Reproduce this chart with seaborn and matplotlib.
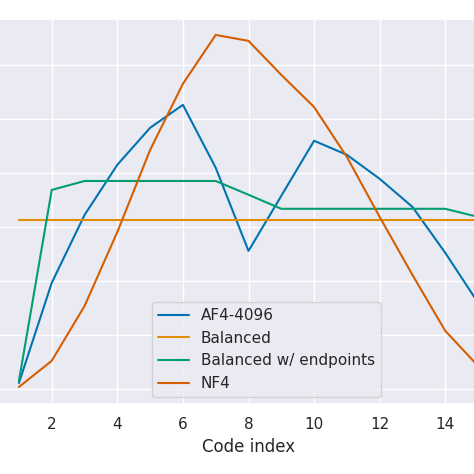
import numpy as np
import pandas as pd
import matplotlib
matplotlib.use("Agg")
import matplotlib.pyplot as plt
import seaborn as sns

# indices of the codes
code_index = list(range(1, 16))

# values
af4_4096 = [0.0022, 0.0393, 0.0644, 0.0830, 0.0967, 0.1052, 0.0819, 0.0511,
            0.0715, 0.0919, 0.0867, 0.0778, 0.0674, 0.0504, 0.0319]
balanced = [0.0625] * 15
balanced_endpoints = [0.0030, 0.0737, 0.0770, 0.0770, 0.0770, 0.0770, 0.0770, 0.0719,
                      0.0667, 0.0667, 0.0667, 0.0667, 0.0667, 0.0667, 0.0637]
nf4 = [0.0007, 0.0104, 0.0307, 0.0581, 0.0885, 0.1130, 0.1311, 0.1289,
       0.1163, 0.1044, 0.0859, 0.0637, 0.0422, 0.0215, 0.0085]

series = {
    "AF4-4096": af4_4096,
    "Balanced": balanced,
    "Balanced w/ endpoints": balanced_endpoints,
    "NF4": nf4,
}

df = pd.concat(
    [pd.DataFrame({"Code index": code_index, "valor": v, "Método": nome})
     for nome, v in series.items()],
    ignore_index=True,
)

sns.set_theme(style="darkgrid")

fig = plt.figure(figsize=(4.74, 4.74), dpi=100)
# the reference is a crop of a wider figure: axes goes past the left/right edges
ax = fig.add_axes([-4 / 474, 70 / 474, 505 / 474, 385 / 474])

sns.lineplot(data=df, x="Code index", y="valor", hue="Método",
             palette="colorblind", ax=ax)

ax.set_xlim(0.3, 15.7)
ax.set_ylim(-0.0056, 0.137)
ax.set_xticks([2, 4, 6, 8, 10, 12, 14])
ax.set_yticks(np.arange(0, 0.13, 0.02))
ax.set_yticklabels([])  # labels fall outside the cropped picture
ax.set_ylabel("")
ax.legend(loc="lower left", bbox_to_anchor=(0.309, 0.018), borderaxespad=0)

fig.savefig("out.png", dpi=100)
